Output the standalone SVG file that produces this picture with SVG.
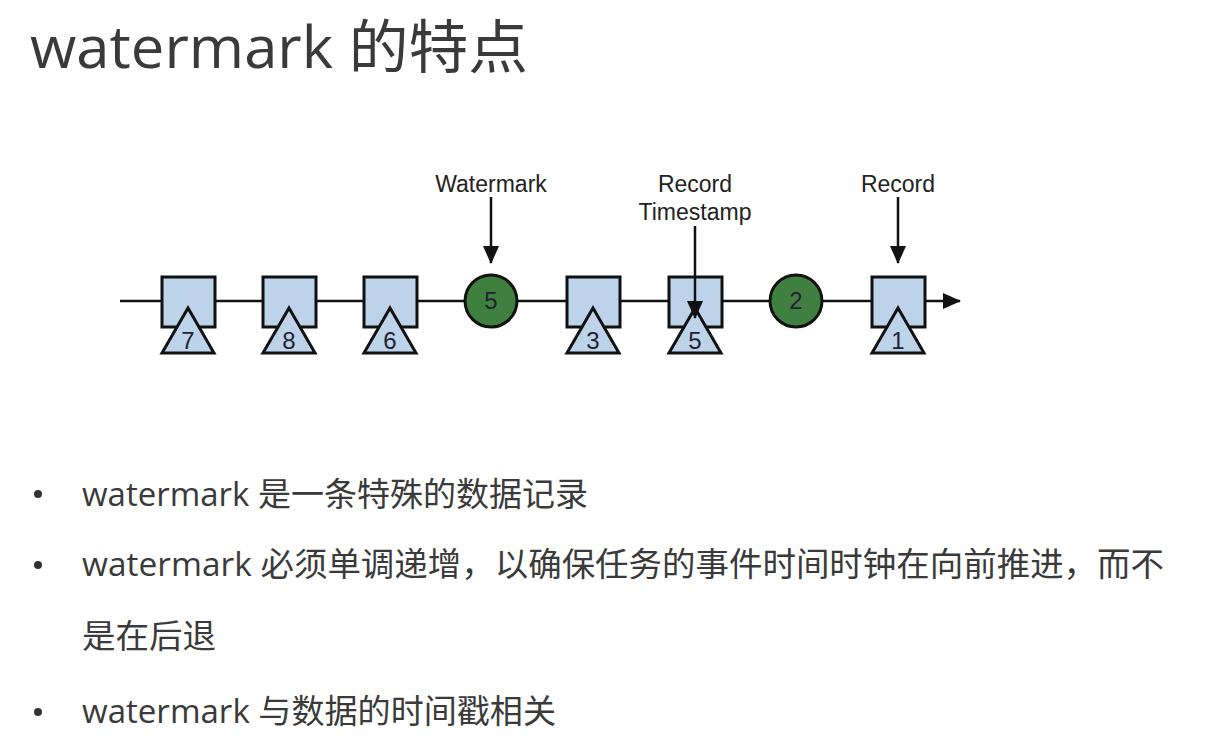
<svg xmlns="http://www.w3.org/2000/svg" width="1227" height="742" viewBox="0 0 1227 742">
<style>
.t{font-family:"Open Sans","Noto Sans CJK SC",sans-serif;fill:#3a3a3a}
.b{fill:#bcd3ea;stroke:#111;stroke-width:3}
.c{fill:#3f8040;stroke:#111;stroke-width:3}
.n{font-family:"Liberation Sans Narrow","Liberation Sans",sans-serif;font-size:24px;text-anchor:middle;fill:#223}
.l{font-family:"Liberation Sans Narrow","Liberation Sans",sans-serif;font-size:23px;text-anchor:middle;fill:#222}
.a{stroke:#111;stroke-width:2.5}
</style>
<defs>
<marker id="ah2" markerWidth="18" markerHeight="18" refX="17" refY="9" orient="auto" markerUnits="userSpaceOnUse" viewBox="0 0 18 18"><path d="M0,1 L18,9 L0,17z" fill="#111"/></marker>
</defs>
<rect width="1227" height="742" fill="#fff"/>
<text class="t" x="30" y="68" font-size="58" textLength="498" lengthAdjust="spacingAndGlyphs">watermark 的特点</text>
<g id="connectors">
<line class="a" x1="120" y1="301" x2="960" y2="301" marker-end="url(#ah2)"/>
<line class="a" x1="491" y1="197" x2="491" y2="263" marker-end="url(#ah2)"/>
<line class="a" x1="898" y1="197" x2="898" y2="263" marker-end="url(#ah2)"/>
</g>
<g id="r7"><rect class="b" x="162" y="277" width="53" height="50"/><polygon class="b" points="188,308 162,353 214,353"/><text class="n" x="188" y="349">7</text></g>
<g id="r8"><rect class="b" x="263" y="277" width="53" height="50"/><polygon class="b" points="289,308 263,353 315,353"/><text class="n" x="289" y="349">8</text></g>
<g id="r6"><rect class="b" x="364" y="277" width="53" height="50"/><polygon class="b" points="390,308 364,353 416,353"/><text class="n" x="390" y="349">6</text></g>
<g id="w5"><circle class="c" cx="491" cy="301" r="26"/><text class="n" x="491" y="309" fill="#e6f0e6">5</text></g>
<g id="r3"><rect class="b" x="567" y="277" width="53" height="50"/><polygon class="b" points="593,308 567,353 619,353"/><text class="n" x="593" y="349">3</text></g>
<g id="r5"><rect class="b" x="669" y="277" width="53" height="50"/><polygon class="b" points="695,308 669,353 721,353"/><text class="n" x="695" y="349">5</text></g>
<g id="w2"><circle class="c" cx="796" cy="301" r="26"/><text class="n" x="796" y="309" fill="#e6f0e6">2</text></g>
<g id="r1"><rect class="b" x="872" y="277" width="53" height="50"/><polygon class="b" points="898,308 872,353 924,353"/><text class="n" x="898" y="349">1</text></g>
<g id="ts-arrow"><line class="a" x1="695" y1="226" x2="695" y2="318" marker-end="url(#ah2)"/></g>
<g id="labels">
<text class="l" x="491" y="192">Watermark</text>
<text class="l" x="695" y="192">Record</text>
<text class="l" x="695" y="220">Timestamp</text>
<text class="l" x="898" y="192">Record</text>
</g>
<g id="bullets" class="t" font-size="33">
<circle cx="38" cy="494" r="4" fill="#333"/>
<text x="82" y="506" textLength="506" lengthAdjust="spacingAndGlyphs">watermark 是一条特殊的数据记录</text>
<circle cx="38" cy="565" r="4" fill="#333"/>
<text x="82" y="576" textLength="1082" lengthAdjust="spacingAndGlyphs">watermark 必须单调递增，以确保任务的事件时间时钟在向前推进，而不</text>
<text x="82" y="648" textLength="134" lengthAdjust="spacingAndGlyphs">是在后退</text>
<circle cx="38" cy="712" r="4" fill="#333"/>
<text x="82" y="723" textLength="474" lengthAdjust="spacingAndGlyphs">watermark 与数据的时间戳相关</text>
</g>
</svg>
